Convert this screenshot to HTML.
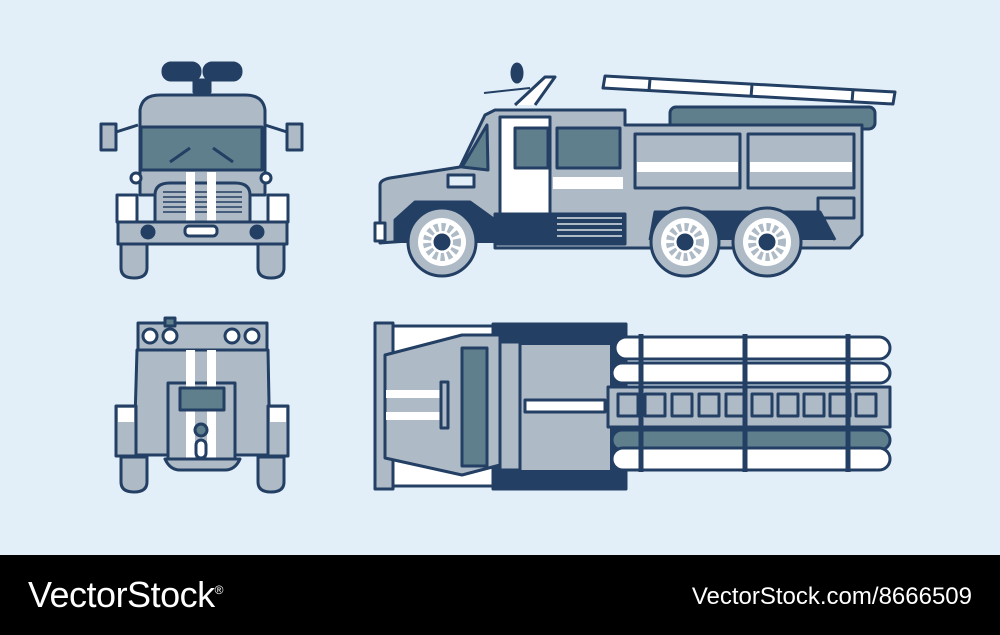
<!DOCTYPE html>
<html><head><meta charset="utf-8"><style>
html,body{margin:0;padding:0;width:1000px;height:635px;overflow:hidden;background:#e3eff8;font-family:"Liberation Sans",sans-serif}
.bar{position:absolute;left:0;top:555px;width:1000px;height:80px;background:#000;color:#fff}
.l{position:absolute;left:28px;top:19px;font-size:36px;letter-spacing:-0.5px}
.r{position:absolute;right:28px;top:28px;font-size:24px}
</style></head><body>
<svg width="1000" height="555" style="position:absolute;left:0;top:0" stroke="#233f63" stroke-width="3" stroke-linejoin="round">
<!-- FRONT VIEW -->
<g>
<rect x="163" y="63" width="37" height="17" rx="8" fill="#233f63"/>
<rect x="204" y="63" width="37" height="17" rx="8" fill="#233f63"/>
<rect x="194" y="80" width="16" height="12" fill="#233f63"/>
<rect x="101" y="124" width="15" height="26" fill="#aebbc7"/>
<rect x="287" y="124" width="15" height="26" fill="#aebbc7"/>
<line x1="116" y1="132" x2="138" y2="125"/><line x1="287" y1="132" x2="265" y2="125"/>
<path d="M140 195 L140 110 Q142 95 160 95 L245 95 Q263 95 265 110 L265 195 Z" fill="#aebbc7"/>
<rect x="141" y="127" width="121" height="43" fill="#5f7f8d"/>
<rect x="117" y="195" width="20" height="27" fill="#fff"/>
<rect x="268" y="195" width="20" height="27" fill="#fff"/>
<path d="M155 222 L155 195 Q155 183 170 183 L235 183 Q250 183 250 195 L250 222 Z" fill="#aebbc7"/>
<g stroke-width="1.5"><line x1="163" y1="192" x2="242" y2="192"/><line x1="163" y1="197" x2="242" y2="197"/><line x1="163" y1="202" x2="242" y2="202"/><line x1="163" y1="207" x2="242" y2="207"/><line x1="163" y1="212" x2="242" y2="212"/></g>
<rect x="186" y="172" width="9" height="50" fill="#fff" stroke="none"/>
<rect x="207" y="172" width="9" height="50" fill="#fff" stroke="none"/>
<line x1="170" y1="162" x2="190" y2="148"/><line x1="233" y1="162" x2="213" y2="148"/>
<rect x="118" y="222" width="169" height="22" fill="#aebbc7"/>
<circle cx="148" cy="232" r="6" fill="#233f63"/><circle cx="257" cy="232" r="6" fill="#233f63"/>
<rect x="185" y="226" width="32" height="10" rx="4" fill="#fff"/>
<path d="M121 244 L121 268 Q121 278 134 278 Q147 278 147 268 L147 244 Z" fill="#aebbc7"/>
<path d="M258 244 L258 268 Q258 278 271 278 Q284 278 284 268 L284 244 Z" fill="#aebbc7"/>
<circle cx="136" cy="178" r="5" fill="#fff"/><circle cx="266" cy="178" r="5" fill="#fff"/>
</g>
<!-- REAR VIEW -->
<g>
<rect x="138" y="323" width="129" height="27" fill="#aebbc7"/>
<circle cx="150" cy="336" r="7" fill="#fff"/><circle cx="170" cy="336" r="7" fill="#fff"/>
<circle cx="232" cy="336" r="7" fill="#fff"/><circle cx="252" cy="336" r="7" fill="#fff"/>
<rect x="165" y="318" width="10" height="8" fill="#5f7f8d"/>
<path d="M137 350 L268 350 L270 455 L134 455 Z" fill="#aebbc7"/>
<rect x="116" y="406" width="20" height="50" fill="#aebbc7"/>
<rect x="268" y="406" width="20" height="50" fill="#aebbc7"/>
<rect x="118" y="408" width="16" height="14" fill="#fff" stroke="none"/><rect x="270" y="408" width="16" height="14" fill="#fff" stroke="none"/>
<rect x="168" y="383" width="67" height="76" fill="#aebbc7"/>
<rect x="186" y="350" width="9" height="112" fill="#fff" stroke="none"/>
<rect x="207" y="350" width="9" height="112" fill="#fff" stroke="none"/>
<rect x="180" y="388" width="44" height="22" fill="#5f7f8d"/>
<circle cx="201" cy="430" r="6" fill="#5f7f8d"/>
<rect x="196" y="440" width="10" height="18" rx="5" fill="#fff"/>
<path d="M165 459 L240 459 Q235 470 225 470 L180 470 Q170 470 165 459Z" fill="#aebbc7"/>
<path d="M121 457 L121 482 Q121 492 134 492 Q147 492 147 482 L147 457 Z" fill="#aebbc7"/>
<path d="M258 457 L258 482 Q258 492 271 492 Q284 492 284 482 L284 457 Z" fill="#aebbc7"/>
</g>
<!-- SIDE VIEW -->
<g>
<path d="M605 76 L895 92 L893 104 L603 88 Z" fill="#fff"/>
<line x1="650" y1="79" x2="649" y2="91"/><line x1="752" y1="85" x2="751" y2="97"/><line x1="853" y1="90" x2="852" y2="102"/>
<path d="M515 105 L545 77 L555 77 L535 105" fill="#fff"/>
<ellipse cx="517" cy="73" rx="5" ry="9" fill="#233f63"/>
<line x1="484" y1="93" x2="530" y2="88" stroke-width="2"/>
<rect x="670" y="107" width="205" height="22" rx="6" fill="#5f7f8d"/>
<path d="M485 115 L495 110 L625 110 L625 125 L862 125 L862 235 L850 248 L495 248 L495 235 L380 243 L380 185 Q380 180 390 178 L460 167 Z" fill="#aebbc7"/>
<path d="M462 167 L487 125 L488 170 Z" fill="#5f7f8d"/>
<rect x="500" y="117" width="50" height="97" fill="#fff"/>
<rect x="515" y="128" width="33" height="40" fill="#5f7f8d"/>
<rect x="557" y="128" width="63" height="40" fill="#5f7f8d"/>
<rect x="553" y="177" width="70" height="12" fill="#fff" stroke="none"/>
<rect x="635" y="134" width="105" height="54" fill="#aebbc7"/>
<rect x="748" y="134" width="106" height="54" fill="#aebbc7"/>
<rect x="637" y="162" width="101" height="10" fill="#fff" stroke="none"/>
<rect x="750" y="162" width="102" height="10" fill="#fff" stroke="none"/>
<rect x="818" y="198" width="36" height="20" fill="#aebbc7"/>
<rect x="448" y="175" width="26" height="12" fill="#e3eff8"/>
<rect x="495" y="214" width="130" height="30" fill="#233f63"/>
<g stroke="#aebbc7" stroke-width="2"><line x1="557" y1="218" x2="622" y2="218"/><line x1="557" y1="224" x2="622" y2="224"/><line x1="557" y1="230" x2="622" y2="230"/><line x1="557" y1="236" x2="622" y2="236"/></g>
<path d="M395 243 L395 220 L415 202 L470 202 L495 220 L495 243" fill="#233f63"/>
<path d="M650 240 L655 212 L820 212 L835 240" fill="#233f63"/>
<g fill="#aebbc7"><circle cx="442" cy="242" r="34"/><circle cx="685" cy="242" r="34"/><circle cx="767" cy="242" r="34"/></g>
<g fill="#fff" stroke="none"><circle cx="442" cy="242" r="24"/><circle cx="685" cy="242" r="24"/><circle cx="767" cy="242" r="24"/></g>
<g fill="none" stroke="#aebbc7" stroke-width="8" stroke-dasharray="4 3"><circle cx="442" cy="242" r="15"/><circle cx="685" cy="242" r="15"/><circle cx="767" cy="242" r="15"/></g>
<g fill="#233f63"><circle cx="442" cy="242" r="7"/><circle cx="685" cy="242" r="7"/><circle cx="767" cy="242" r="7"/></g>
<rect x="375" y="223" width="10" height="18" fill="#fff"/>
</g>
<!-- TOP VIEW -->
<g>
<rect x="493" y="324" width="133" height="165" fill="#233f63"/>
<rect x="375" y="323" width="18" height="166" fill="#aebbc7"/>
<rect x="393" y="326" width="100" height="160" fill="#fff"/>
<path d="M385 355 L462 335 L500 335 L500 465 L462 475 L385 458 Z" fill="#aebbc7"/>
<rect x="462" y="348" width="25" height="118" fill="#5f7f8d"/>
<rect x="386" y="390" width="55" height="8" fill="#fff" stroke="none"/><rect x="386" y="412" width="55" height="8" fill="#fff" stroke="none"/>
<rect x="441" y="382" width="7" height="46" fill="#aebbc7"/>
<rect x="520" y="345" width="90" height="125" fill="#aebbc7" stroke="none"/>
<rect x="500" y="342" width="20" height="128" fill="#aebbc7"/>
<rect x="525" y="400" width="80" height="12" fill="#fff"/>
<rect x="615" y="337" width="275" height="22" rx="11" fill="#fff"/>
<rect x="612" y="363" width="278" height="20" rx="10" fill="#fff"/>
<rect x="608" y="387" width="282" height="40" fill="#aebbc7"/>
<rect x="612" y="430" width="278" height="20" rx="10" fill="#5f7f8d"/>
<rect x="612" y="448" width="278" height="22" rx="11" fill="#fff"/>
<g fill="#aebbc7">
<rect x="618" y="394" width="20" height="22"/><rect x="645" y="394" width="20" height="22"/><rect x="672" y="394" width="20" height="22"/><rect x="699" y="394" width="20" height="22"/><rect x="726" y="394" width="20" height="22"/><rect x="752" y="394" width="20" height="22"/><rect x="778" y="394" width="20" height="22"/><rect x="804" y="394" width="20" height="22"/><rect x="830" y="394" width="20" height="22"/><rect x="856" y="394" width="20" height="22"/>
</g>
<g stroke-width="5"><line x1="641" y1="334" x2="641" y2="472"/><line x1="745" y1="334" x2="745" y2="472"/><line x1="848" y1="334" x2="848" y2="472"/></g>
</g>
</svg>
<div class="bar"><div class="l">VectorStock<sup style="font-size:12px">®</sup></div><div class="r">VectorStock.com/8666509</div></div>
</body></html>
